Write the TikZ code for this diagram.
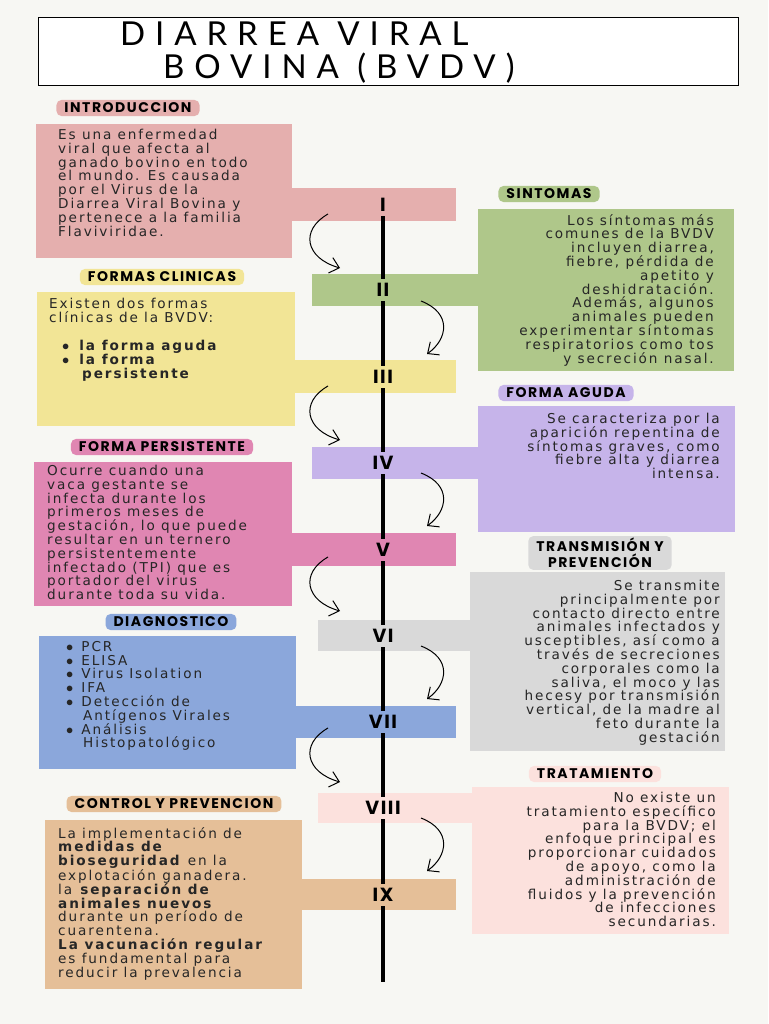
\documentclass[tikz,border=0pt]{standalone}
\usepackage{fontspec}
\usetikzlibrary{arrows.meta}
\newfontfamily\bodyf[LetterSpace=14]{DejaVu Sans}
\newfontfamily\labf[LetterSpace=11]{Poppins}
\newfontfamily\romf[LetterSpace=8]{Poppins}
\newfontfamily\titf[LetterSpace=30]{Lato}
\definecolor{bg}{HTML}{F7F7F3}
\definecolor{cI}{HTML}{E5AFAE}
\definecolor{cII}{HTML}{AFC78A}
\definecolor{cIII}{HTML}{F2E596}
\definecolor{cIV}{HTML}{C6B4EA}
\definecolor{cV}{HTML}{E086B2}
\definecolor{cVI}{HTML}{D9D9D9}
\definecolor{cVII}{HTML}{8BA7DB}
\definecolor{cVIII}{HTML}{FCE1DD}
\definecolor{cIX}{HTML}{E5BF98}
\tikzset{
 bodytxt/.style={inner sep=0pt,font=\bodyf\fontsize{13.6}{13.8}\selectfont,text=black!85},
 labtxt/.style={rounded corners=5pt,inner xsep=8pt,inner ysep=3pt,font=\labf\bfseries\fontsize{14}{14}\selectfont,align=center},
 roman/.style={font=\romf\bfseries\fontsize{19}{19}\selectfont,inner xsep=3pt,inner ysep=4pt},
 carrow/.style={-{Straight Barb[length=9pt,width=16pt]},line width=1pt}
}
\begin{document}
\begin{tikzpicture}[x=1pt,y=-1pt]
\fill[bg] (0,0) rectangle (768,1024);
\useasboundingbox (0,0) rectangle (768,1024);
% title
\draw[fill=white,line width=1pt] (38,18) rectangle (738,86);
\node[font=\titf\fontsize{33}{33}\selectfont,anchor=west,inner sep=0pt] (title1) at (120,34) {DIARREA VIRAL};
\node[font=\titf\fontsize{33}{33}\selectfont,anchor=west,inner sep=0pt] (title2) at (163,68) {BOVINA (BVDV)};
% boxes
\fill[cI] (36,124) rectangle (292,258); \fill[cI] (292,188) rectangle (456,221);
\fill[cII] (478,209) rectangle (734,371); \fill[cII] (312,274) rectangle (480,306);
\fill[cIII] (37,292) rectangle (295,426); \fill[cIII] (295,360) rectangle (456,393);
\fill[cIV] (478,406) rectangle (735,532); \fill[cIV] (312,447) rectangle (478,479);
\fill[cV] (34,462) rectangle (292,606); \fill[cV] (292,533) rectangle (456,566);
\fill[cVI] (470,572) rectangle (725,751); \fill[cVI] (318,620) rectangle (470,651);
\fill[cVII] (39,636) rectangle (296,769); \fill[cVII] (296,706) rectangle (456,738);
\fill[cVIII] (472,787) rectangle (729,934); \fill[cVIII] (318,793) rectangle (473,823);
\fill[cIX] (45,820) rectangle (302,989); \fill[cIX] (302,879) rectangle (456,910);
% line
\draw[line width=4pt] (383,196) -- (383,982);
% roman
\foreach \t/\y/\c [count=\i] in {I/205/cI,II/290/cII,III/377/cIII,IV/463/cIV,V/550/cV,VI/636/cVI,VII/722/cVII,VIII/808/cVIII,IX/895/cIX}{
  \node[roman,fill=\c] (r\i) at (383,\y) {\t};
}
% labels
\node[labtxt,fill=cI] (lI) at (128,108) {INTRODUCCION};
\node[labtxt,fill=cII] (lII) at (549,194) {SINTOMAS};
\node[labtxt,fill=cIII] (lIII) at (162,277) {FORMAS CLINICAS};
\node[labtxt,fill=cIV] (lIV) at (566,393) {FORMA AGUDA};
\node[labtxt,fill=cV] (lV) at (162,447) {FORMA PERSISTENTE};
\node[labtxt,fill=cVI,inner ysep=2pt,font=\labf\bfseries\fontsize{14}{16}\selectfont] (lVI) at (600,553) {TRANSMISIÓN Y\\PREVENCIÓN};
\node[labtxt,fill=cVII] (lVII) at (171,622) {DIAGNOSTICO};
\node[labtxt,fill=cVIII] (lVIII) at (595,774) {TRATAMIENTO};
\node[labtxt,fill=cIX] (lIX) at (174,804) {CONTROL Y PREVENCION};
% texts
\node[bodytxt,anchor=north west,align=left] (tI) at (58,129) {Es una enfermedad\\viral que afecta al\\ganado bovino en todo\\el mundo. Es causada\\por el Virus de la\\Diarrea Viral Bovina y\\pertenece a la familia\\Flaviviridae.};
\node[bodytxt,anchor=north east,align=right] (tII) at (714,214) {Los síntomas más\\comunes de la BVDV\\incluyen diarrea,\\fiebre, pérdida de\\apetito y\\deshidratación.\\Además, algunos\\animales pueden\\experimentar síntomas\\respiratorios como tos\\y secreción nasal.};
\node[bodytxt,anchor=north west,align=left] (tIII) at (49,298) {Existen dos formas\\clínicas de la BVDV:};
\node[bodytxt,anchor=north west,align=left,font=\bodyf\bfseries\fontsize{13.6}{13.8}\selectfont] (tIIIb) at (62,340) {$\bullet$\hspace{10pt}la forma aguda\\$\bullet$\hspace{10pt}la forma\\\hspace{20pt}persistente};
\node[bodytxt,anchor=north east,align=right] (tIV) at (720,413) {Se caracteriza por la\\aparición repentina de\\síntomas graves, como\\fiebre alta y diarrea\\intensa.};
\node[bodytxt,anchor=north west,align=left] (tV) at (47,465) {Ocurre cuando una\\vaca gestante se\\infecta durante los\\primeros meses de\\gestación, lo que puede\\resultar en un ternero\\persistentemente\\infectado (TPI) que es\\portador del virus\\durante toda su vida.};
\node[bodytxt,anchor=north east,align=right] (tVI) at (720,580) {Se transmite\\principalmente por\\contacto directo entre\\animales infectados y\\usceptibles, así como a\\través de secreciones\\corporales como la\\saliva, el moco y las\\hecesy por transmisión\\vertical, de la madre al\\feto durante la\\gestación};
\node[bodytxt,anchor=north west,align=left] (tVII) at (66,641) {$\bullet$\hspace{8pt}PCR\\$\bullet$\hspace{8pt}ELISA\\$\bullet$\hspace{8pt}Virus Isolation\\$\bullet$\hspace{8pt}IFA\\$\bullet$\hspace{8pt}Detección de\\\hspace{17pt}Antígenos Virales\\$\bullet$\hspace{8pt}Análisis\\\hspace{17pt}Histopatológico};
\node[bodytxt,anchor=north east,align=right] (tVIII) at (716,792) {No existe un\\tratamiento específico\\para la BVDV; el\\enfoque principal es\\proporcionar cuidados\\de apoyo, como la\\administración de\\fluidos y la prevención\\de infecciones\\secundarias.};
\node[bodytxt,anchor=north west,align=left] (tIX) at (58,827) {La implementación de\\\textbf{medidas de}\\\textbf{bioseguridad} en la\\explotación ganadera.\\la \textbf{separación de}\\\textbf{animales nuevos}\\durante un período de\\cuarentena.\\\textbf{La vacunación regular}\\es fundamental para\\reducir la prevalencia};
% curved arrows
\foreach \y in {214,557,728}{
 \coordinate (s) at (328,\y); \coordinate (e) at (340,\y+54);
 \draw[carrow] (s) .. controls (300,\y+16) and (305,\y+44) .. (e);
}
\coordinate (s2) at (328,386); \coordinate (e2) at (340,440);
\draw[carrow] (s2) .. controls (300,402) and (305,430) .. (e2);
\foreach \y in {301,473,646,818}{
 \coordinate (s) at (421,\y); \coordinate (e) at (427,\y+53);
 \draw[carrow] (s) .. controls (452,\y+12) and (448,\y+38) .. (e);
}
\end{tikzpicture}
\end{document}
